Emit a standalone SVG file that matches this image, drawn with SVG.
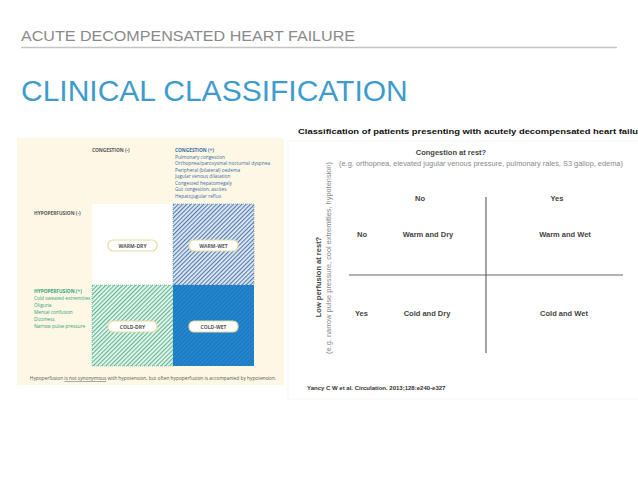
<svg xmlns="http://www.w3.org/2000/svg" width="638" height="479" viewBox="0 0 638 479">
<defs>
<style>
.hdr{font-family:"Liberation Sans",Arial,sans-serif;}
.lt{font-family:"Open Sans","Liberation Sans",sans-serif;font-size:4.8px;}
.ltb{font-family:"Open Sans","Liberation Sans",sans-serif;font-size:4.8px;font-weight:700;}
.pill{fill:#ffffff;stroke:#e4dca2;stroke-width:1.2;}
.pt{font-family:"Open Sans","Liberation Sans",sans-serif;font-size:5px;font-weight:700;fill:#555;text-anchor:middle;}
.rb{font-family:"Liberation Sans",Arial,sans-serif;font-size:7.5px;font-weight:700;fill:#444;}
.rr{font-family:"Liberation Sans",Arial,sans-serif;font-size:7.4px;fill:#888;}
.grid{stroke:#666;stroke-width:1.2;fill:none;}
</style>
<pattern id="hb" width="3" height="3" patternUnits="userSpaceOnUse" patternTransform="rotate(45)">
<rect width="3" height="3" fill="#e2eaf4"/>
<line x1="0.6" y1="0" x2="0.6" y2="3" stroke="#4673a8" stroke-width="1.05"/>
</pattern>
<pattern id="hg" width="3" height="3" patternUnits="userSpaceOnUse" patternTransform="rotate(45)">
<rect width="3" height="3" fill="#eaf6ef"/>
<line x1="0.6" y1="0" x2="0.6" y2="3" stroke="#52b28c" stroke-width="1.05"/>
</pattern>
<pattern id="hw" width="3" height="3" patternUnits="userSpaceOnUse" patternTransform="rotate(45)">
<rect width="3" height="3" fill="#1b7bc4"/>
<line x1="0.6" y1="0" x2="0.6" y2="3" stroke="#2b8bd0" stroke-width="1"/>
</pattern>
</defs>
<rect width="638" height="479" fill="#ffffff"/>

<g id="header">
<text class="hdr" x="21" y="41" font-size="14.5" fill="#8a8a8a" textLength="334" lengthAdjust="spacingAndGlyphs">ACUTE DECOMPENSATED HEART FAILURE</text>
<line x1="21" y1="47.5" x2="617" y2="47.5" stroke="#c4c4c4" stroke-width="1.5"/>
<text class="hdr" x="21" y="101" font-size="30" fill="#3d9ccd">CLINICAL CLASSIFICATION</text>
</g>

<g id="left-figure">
<rect x="17" y="138" width="267" height="247" fill="#fdf8e6"/>
<text class="ltb" x="92" y="152" fill="#555">CONGESTION (-)</text>
<g fill="#3b6aa5">
<text class="ltb" x="175" y="152">CONGESTION (+)</text>
<text class="lt" x="175" y="158.5">Pulmonary congestion</text>
<text class="lt" x="175" y="165">Orthopnea/paroxysmal nocturnal dyspnea</text>
<text class="lt" x="175" y="171.5">Peripheral (bilateral) oedema</text>
<text class="lt" x="175" y="178">Jugular venous dilatation</text>
<text class="lt" x="175" y="184.5">Congested hepatomegaly</text>
<text class="lt" x="175" y="191">Gut congestion, ascites</text>
<text class="lt" x="175" y="197.5">Hepatojugular reflux</text>
</g>
<text class="ltb" x="34" y="215" fill="#555">HYPOPERFUSION (-)</text>
<g fill="#33a078">
<text class="ltb" x="34" y="293">HYPOPERFUSION (+)</text>
<text class="lt" x="34" y="300">Cold sweated extremities</text>
<text class="lt" x="34" y="307">Oliguria</text>
<text class="lt" x="34" y="314">Mental confusion</text>
<text class="lt" x="34" y="321">Dizziness</text>
<text class="lt" x="34" y="328">Narrow pulse pressure</text>
</g>
<text class="lt" x="153" y="380" font-size="4.6" fill="#555" text-anchor="middle">Hypoperfusion <tspan text-decoration="underline">is not synonymous</tspan> with hypotension, but often hypoperfusion is accompanied by hypotension.</text>
</g>

<g id="warm-dry">
<rect x="92" y="204" width="81" height="81" fill="#ffffff"/>
<rect class="pill" x="108" y="240" width="49" height="11" rx="5"/>
<text class="pt" x="132.5" y="247.5">WARM-DRY</text>
</g>
<g id="warm-wet">
<rect x="173" y="204" width="81" height="81" fill="url(#hb)" stroke="#5c82b0" stroke-width="0.6" stroke-dasharray="1 1"/>
<rect class="pill" x="189" y="240" width="49" height="11" rx="5"/>
<text class="pt" x="213.5" y="247.5">WARM-WET</text>
</g>
<g id="cold-dry">
<rect x="92" y="285" width="81" height="81" fill="url(#hg)" stroke="#5ab08e" stroke-width="0.6" stroke-dasharray="1 1"/>
<rect class="pill" x="108" y="321" width="49" height="11" rx="5"/>
<text class="pt" x="132.5" y="328.5">COLD-DRY</text>
</g>
<g id="cold-wet">
<rect x="173" y="285" width="81" height="81" fill="url(#hw)"/>
<rect class="pill" x="189" y="321" width="49" height="11" rx="5" stroke="#d8e6f2"/>
<text class="pt" x="213.5" y="328.5">COLD-WET</text>
</g>

<g id="right-figure">
<text x="298" y="134" font-family="'Liberation Sans',Arial,sans-serif" font-size="7.8" font-weight="700" fill="#111" textLength="340" lengthAdjust="spacingAndGlyphs">Classification of patients presenting with acutely decompensated heart failu</text>
<rect x="288" y="141" width="352" height="258" fill="none" stroke="#f5f5f5" stroke-width="1"/>
<text class="rb" x="451" y="155" text-anchor="middle">Congestion at rest?</text>
<text class="rr" x="481" y="166" text-anchor="middle">(e.g. orthopnea, elevated jugular venous pressure, pulmonary rales, S3 gallop, edema)</text>
<text class="rb" transform="translate(321,277) rotate(-90)" text-anchor="middle">Low perfusion at rest?</text>
<text class="rr" transform="translate(331,258) rotate(-90)" text-anchor="middle" font-size="7.6">(e.g. narrow pulse pressure, cool extremities, hypotension)</text>
<text class="rb" x="420" y="201" text-anchor="middle">No</text>
<text class="rb" x="557" y="201" text-anchor="middle">Yes</text>
<text class="rb" x="357" y="237">No</text>
<text class="rb" x="355" y="316">Yes</text>
<text class="rb" x="428" y="237" text-anchor="middle">Warm and Dry</text>
<text class="rb" x="565" y="237" text-anchor="middle">Warm and Wet</text>
<text class="rb" x="427" y="316" text-anchor="middle">Cold and Dry</text>
<text class="rb" x="564" y="316" text-anchor="middle">Cold and Wet</text>
<text x="307" y="390" font-family="'Liberation Sans',Arial,sans-serif" font-size="6" font-weight="700" fill="#333">Yancy C W et al. Circulation. 2013;128:e240-e327</text>
</g>

<g id="connectors">
<line class="grid" x1="486" y1="197" x2="486" y2="353"/>
<line class="grid" x1="349" y1="275" x2="623" y2="275"/>
</g>
</svg>
